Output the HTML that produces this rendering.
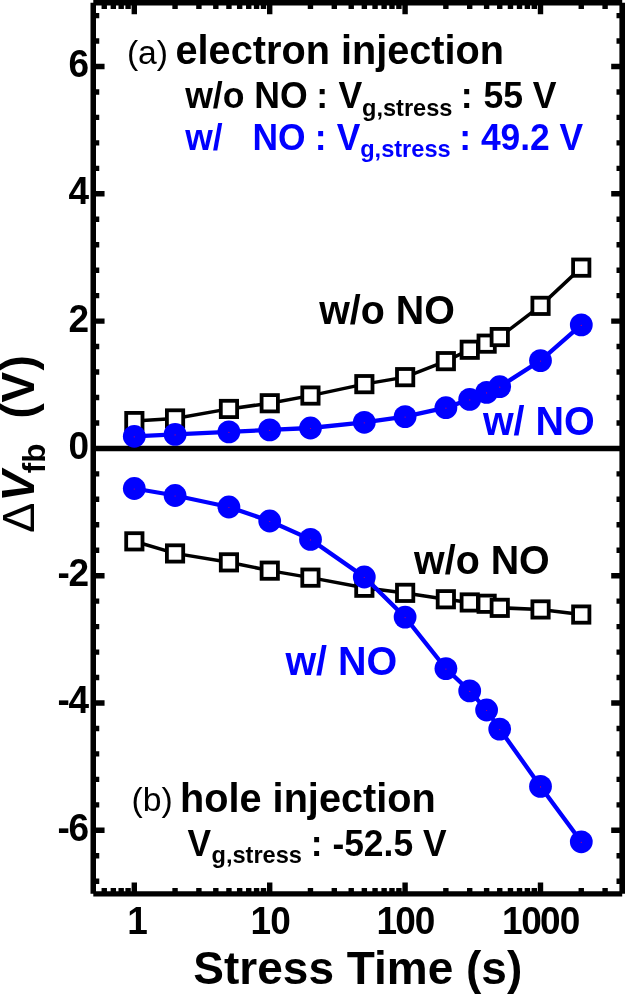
<!DOCTYPE html>
<html><head><meta charset="utf-8"><title>Stress Time</title>
<style>html,body{margin:0;padding:0;background:#fff;width:625px;height:994px;overflow:hidden}</style>
</head><body>
<svg width="625" height="994" viewBox="0 0 625 994" style="display:block;position:absolute;left:0;top:0">
<rect width="625" height="994" fill="#fff"/>
<path d="M93.25 881.22h6.0M622.5 881.22h-6.0M93.25 855.76h6.0M622.5 855.76h-6.0M93.25 830.30h11.3M622.5 830.30h-11.3M93.25 804.84h6.0M622.5 804.84h-6.0M93.25 779.38h6.0M622.5 779.38h-6.0M93.25 753.92h6.0M622.5 753.92h-6.0M93.25 728.46h6.0M622.5 728.46h-6.0M93.25 703.00h11.3M622.5 703.00h-11.3M93.25 677.54h6.0M622.5 677.54h-6.0M93.25 652.08h6.0M622.5 652.08h-6.0M93.25 626.62h6.0M622.5 626.62h-6.0M93.25 601.16h6.0M622.5 601.16h-6.0M93.25 575.70h11.3M622.5 575.70h-11.3M93.25 550.24h6.0M622.5 550.24h-6.0M93.25 524.78h6.0M622.5 524.78h-6.0M93.25 499.32h6.0M622.5 499.32h-6.0M93.25 473.86h6.0M622.5 473.86h-6.0M93.25 422.94h6.0M622.5 422.94h-6.0M93.25 397.48h6.0M622.5 397.48h-6.0M93.25 372.02h6.0M622.5 372.02h-6.0M93.25 346.56h6.0M622.5 346.56h-6.0M93.25 321.10h11.3M622.5 321.10h-11.3M93.25 295.64h6.0M622.5 295.64h-6.0M93.25 270.18h6.0M622.5 270.18h-6.0M93.25 244.72h6.0M622.5 244.72h-6.0M93.25 219.26h6.0M622.5 219.26h-6.0M93.25 193.80h11.3M622.5 193.80h-11.3M93.25 168.34h6.0M622.5 168.34h-6.0M93.25 142.88h6.0M622.5 142.88h-6.0M93.25 117.42h6.0M622.5 117.42h-6.0M93.25 91.96h6.0M622.5 91.96h-6.0M93.25 66.50h11.3M622.5 66.50h-11.3M93.25 41.04h6.0M622.5 41.04h-6.0M93.25 15.58h6.0M622.5 15.58h-6.0M104.26 2.9v6.0M104.26 893.9v-6.0M113.33 2.9v6.0M113.33 893.9v-6.0M121.18 2.9v6.0M121.18 893.9v-6.0M128.10 2.9v6.0M128.10 893.9v-6.0M134.30 2.9v11.3M134.30 893.9v-11.3M175.06 2.9v6.0M175.06 893.9v-6.0M198.90 2.9v6.0M198.90 893.9v-6.0M215.82 2.9v6.0M215.82 893.9v-6.0M228.94 2.9v6.0M228.94 893.9v-6.0M239.66 2.9v6.0M239.66 893.9v-6.0M248.73 2.9v6.0M248.73 893.9v-6.0M256.58 2.9v6.0M256.58 893.9v-6.0M263.50 2.9v6.0M263.50 893.9v-6.0M269.70 2.9v11.3M269.70 893.9v-11.3M310.46 2.9v6.0M310.46 893.9v-6.0M334.30 2.9v6.0M334.30 893.9v-6.0M351.22 2.9v6.0M351.22 893.9v-6.0M364.34 2.9v6.0M364.34 893.9v-6.0M375.06 2.9v6.0M375.06 893.9v-6.0M384.13 2.9v6.0M384.13 893.9v-6.0M391.98 2.9v6.0M391.98 893.9v-6.0M398.90 2.9v6.0M398.90 893.9v-6.0M405.10 2.9v11.3M405.10 893.9v-11.3M445.86 2.9v6.0M445.86 893.9v-6.0M469.70 2.9v6.0M469.70 893.9v-6.0M486.62 2.9v6.0M486.62 893.9v-6.0M499.74 2.9v6.0M499.74 893.9v-6.0M510.46 2.9v6.0M510.46 893.9v-6.0M519.53 2.9v6.0M519.53 893.9v-6.0M527.38 2.9v6.0M527.38 893.9v-6.0M534.30 2.9v6.0M534.30 893.9v-6.0M540.50 2.9v11.3M540.50 893.9v-11.3M581.26 2.9v6.0M581.26 893.9v-6.0M605.10 2.9v6.0M605.10 893.9v-6.0" stroke="#000" stroke-width="5.4" fill="none"/>
<path d="M90.5 2.8H96V893.8H90.5ZM93.3 -1H622.2V5.5H93.3ZM93.3 891.2H622.2V896.6H93.3ZM619.4 2.8H626V893.8H619.4Z" fill="#000"/>
<path d="M93.25 448.4H622.5" stroke="#000" stroke-width="5.5" fill="none"/>
<path d="M134.3 421.0L175.1 418.5L228.9 408.9L269.7 403.2L310.5 395.6L364.3 384.1L405.1 377.1L445.9 361.2L469.7 349.7L486.6 343.7L499.7 337.0L540.5 305.8L581.3 267.6" stroke="#000" stroke-width="3.5" fill="none"/>
<rect x="126.2" y="412.9" width="16.3" height="16.3" fill="#fff" stroke="#000" stroke-width="3.8"/>
<rect x="166.9" y="410.3" width="16.3" height="16.3" fill="#fff" stroke="#000" stroke-width="3.8"/>
<rect x="220.8" y="400.8" width="16.3" height="16.3" fill="#fff" stroke="#000" stroke-width="3.8"/>
<rect x="261.6" y="395.1" width="16.3" height="16.3" fill="#fff" stroke="#000" stroke-width="3.8"/>
<rect x="302.3" y="387.4" width="16.3" height="16.3" fill="#fff" stroke="#000" stroke-width="3.8"/>
<rect x="356.2" y="376.0" width="16.3" height="16.3" fill="#fff" stroke="#000" stroke-width="3.8"/>
<rect x="397.0" y="369.0" width="16.3" height="16.3" fill="#fff" stroke="#000" stroke-width="3.8"/>
<rect x="437.7" y="353.0" width="16.3" height="16.3" fill="#fff" stroke="#000" stroke-width="3.8"/>
<rect x="461.6" y="341.6" width="16.3" height="16.3" fill="#fff" stroke="#000" stroke-width="3.8"/>
<rect x="478.5" y="335.5" width="16.3" height="16.3" fill="#fff" stroke="#000" stroke-width="3.8"/>
<rect x="491.6" y="328.9" width="16.3" height="16.3" fill="#fff" stroke="#000" stroke-width="3.8"/>
<rect x="532.4" y="297.7" width="16.3" height="16.3" fill="#fff" stroke="#000" stroke-width="3.8"/>
<rect x="573.1" y="259.5" width="16.3" height="16.3" fill="#fff" stroke="#000" stroke-width="3.8"/>
<path d="M134.3 541.3L175.1 553.4L228.9 562.3L269.7 570.6L310.5 577.6L364.3 587.8L405.1 592.9L445.9 599.3L469.7 602.4L486.6 603.7L499.7 607.8L540.5 609.4L581.3 614.5" stroke="#000" stroke-width="3.5" fill="none"/>
<rect x="126.2" y="533.2" width="16.3" height="16.3" fill="#fff" stroke="#000" stroke-width="3.8"/>
<rect x="166.9" y="545.3" width="16.3" height="16.3" fill="#fff" stroke="#000" stroke-width="3.8"/>
<rect x="220.8" y="554.2" width="16.3" height="16.3" fill="#fff" stroke="#000" stroke-width="3.8"/>
<rect x="261.6" y="562.5" width="16.3" height="16.3" fill="#fff" stroke="#000" stroke-width="3.8"/>
<rect x="302.3" y="569.5" width="16.3" height="16.3" fill="#fff" stroke="#000" stroke-width="3.8"/>
<rect x="356.2" y="579.6" width="16.3" height="16.3" fill="#fff" stroke="#000" stroke-width="3.8"/>
<rect x="397.0" y="584.7" width="16.3" height="16.3" fill="#fff" stroke="#000" stroke-width="3.8"/>
<rect x="437.7" y="591.1" width="16.3" height="16.3" fill="#fff" stroke="#000" stroke-width="3.8"/>
<rect x="461.6" y="594.3" width="16.3" height="16.3" fill="#fff" stroke="#000" stroke-width="3.8"/>
<rect x="478.5" y="595.6" width="16.3" height="16.3" fill="#fff" stroke="#000" stroke-width="3.8"/>
<rect x="491.6" y="599.7" width="16.3" height="16.3" fill="#fff" stroke="#000" stroke-width="3.8"/>
<rect x="532.4" y="601.3" width="16.3" height="16.3" fill="#fff" stroke="#000" stroke-width="3.8"/>
<rect x="573.1" y="606.4" width="16.3" height="16.3" fill="#fff" stroke="#000" stroke-width="3.8"/>
<path d="M134.3 436.3L175.1 434.4L228.9 431.9L269.7 429.9L310.5 428.0L364.3 422.3L405.1 416.6L445.9 407.7L469.7 399.4L486.6 392.4L499.7 386.7L540.5 360.6L581.3 324.9" stroke="#0000ff" stroke-width="4.3" fill="none"/>
<circle cx="134.3" cy="436.3" r="11.4" fill="#0000ff"/>
<circle cx="134.3" cy="436.8" r="0.6" fill="#c0006a"/>
<circle cx="175.1" cy="434.4" r="11.4" fill="#0000ff"/>
<circle cx="175.1" cy="434.9" r="0.6" fill="#c0006a"/>
<circle cx="228.9" cy="431.9" r="11.4" fill="#0000ff"/>
<circle cx="228.9" cy="432.4" r="0.6" fill="#c0006a"/>
<circle cx="269.7" cy="429.9" r="11.4" fill="#0000ff"/>
<circle cx="269.7" cy="430.4" r="0.6" fill="#c0006a"/>
<circle cx="310.5" cy="428.0" r="11.4" fill="#0000ff"/>
<circle cx="310.5" cy="428.5" r="0.6" fill="#c0006a"/>
<circle cx="364.3" cy="422.3" r="11.4" fill="#0000ff"/>
<circle cx="364.3" cy="422.8" r="0.6" fill="#c0006a"/>
<circle cx="405.1" cy="416.6" r="11.4" fill="#0000ff"/>
<circle cx="405.1" cy="417.1" r="0.6" fill="#c0006a"/>
<circle cx="445.9" cy="407.7" r="11.4" fill="#0000ff"/>
<circle cx="445.9" cy="408.2" r="0.6" fill="#c0006a"/>
<circle cx="469.7" cy="399.4" r="11.4" fill="#0000ff"/>
<circle cx="469.7" cy="399.9" r="0.6" fill="#c0006a"/>
<circle cx="486.6" cy="392.4" r="11.4" fill="#0000ff"/>
<circle cx="486.6" cy="392.9" r="0.6" fill="#c0006a"/>
<circle cx="499.7" cy="386.7" r="11.4" fill="#0000ff"/>
<circle cx="499.7" cy="387.2" r="0.6" fill="#c0006a"/>
<circle cx="540.5" cy="360.6" r="11.4" fill="#0000ff"/>
<circle cx="540.5" cy="361.1" r="0.6" fill="#c0006a"/>
<circle cx="581.3" cy="324.9" r="11.4" fill="#0000ff"/>
<circle cx="581.3" cy="325.4" r="0.6" fill="#c0006a"/>
<path d="M134.3 488.5L175.1 495.5L228.9 507.0L269.7 521.0L310.5 539.4L364.3 577.0L405.1 617.1L445.9 668.6L469.7 690.9L486.6 710.0L499.7 729.1L540.5 786.4L581.3 841.8" stroke="#0000ff" stroke-width="4.3" fill="none"/>
<circle cx="134.3" cy="488.5" r="11.4" fill="#0000ff"/>
<circle cx="134.3" cy="489.0" r="0.6" fill="#c0006a"/>
<circle cx="175.1" cy="495.5" r="11.4" fill="#0000ff"/>
<circle cx="175.1" cy="496.0" r="0.6" fill="#c0006a"/>
<circle cx="228.9" cy="507.0" r="11.4" fill="#0000ff"/>
<circle cx="228.9" cy="507.5" r="0.6" fill="#c0006a"/>
<circle cx="269.7" cy="521.0" r="11.4" fill="#0000ff"/>
<circle cx="269.7" cy="521.5" r="0.6" fill="#c0006a"/>
<circle cx="310.5" cy="539.4" r="11.4" fill="#0000ff"/>
<circle cx="310.5" cy="539.9" r="0.6" fill="#c0006a"/>
<circle cx="364.3" cy="577.0" r="11.4" fill="#0000ff"/>
<circle cx="364.3" cy="577.5" r="0.6" fill="#c0006a"/>
<circle cx="405.1" cy="617.1" r="11.4" fill="#0000ff"/>
<circle cx="405.1" cy="617.6" r="0.6" fill="#c0006a"/>
<circle cx="445.9" cy="668.6" r="11.4" fill="#0000ff"/>
<circle cx="445.9" cy="669.1" r="0.6" fill="#c0006a"/>
<circle cx="469.7" cy="690.9" r="11.4" fill="#0000ff"/>
<circle cx="469.7" cy="691.4" r="0.6" fill="#c0006a"/>
<circle cx="486.6" cy="710.0" r="11.4" fill="#0000ff"/>
<circle cx="486.6" cy="710.5" r="0.6" fill="#c0006a"/>
<circle cx="499.7" cy="729.1" r="11.4" fill="#0000ff"/>
<circle cx="499.7" cy="729.6" r="0.6" fill="#c0006a"/>
<circle cx="540.5" cy="786.4" r="11.4" fill="#0000ff"/>
<circle cx="540.5" cy="786.9" r="0.6" fill="#c0006a"/>
<circle cx="581.3" cy="841.8" r="11.4" fill="#0000ff"/>
<circle cx="581.3" cy="842.3" r="0.6" fill="#c0006a"/>
<text transform="translate(0 76.9) scale(1 1.04)" x="89.2" y="0" font-family="Liberation Sans, Arial, Helvetica, sans-serif" font-size="37" font-weight="bold" fill="#000" text-anchor="end" >6</text>
<text transform="translate(0 204.2) scale(1 1.04)" x="89.2" y="0" font-family="Liberation Sans, Arial, Helvetica, sans-serif" font-size="37" font-weight="bold" fill="#000" text-anchor="end" >4</text>
<text transform="translate(0 331.49999999999994) scale(1 1.04)" x="89.2" y="0" font-family="Liberation Sans, Arial, Helvetica, sans-serif" font-size="37" font-weight="bold" fill="#000" text-anchor="end" >2</text>
<text transform="translate(0 458.79999999999995) scale(1 1.04)" x="89.2" y="0" font-family="Liberation Sans, Arial, Helvetica, sans-serif" font-size="37" font-weight="bold" fill="#000" text-anchor="end" >0</text>
<text transform="translate(0 586.0999999999999) scale(1 1.04)" x="57.5 68.62" y="0" font-family="Liberation Sans, Arial, Helvetica, sans-serif" font-size="37" font-weight="bold" fill="#000" text-anchor="start" >-2</text>
<text transform="translate(0 713.4) scale(1 1.04)" x="57.5 68.62" y="0" font-family="Liberation Sans, Arial, Helvetica, sans-serif" font-size="37" font-weight="bold" fill="#000" text-anchor="start" >-4</text>
<text transform="translate(0 840.6999999999999) scale(1 1.04)" x="57.5 68.62" y="0" font-family="Liberation Sans, Arial, Helvetica, sans-serif" font-size="37" font-weight="bold" fill="#000" text-anchor="start" >-6</text>
<text transform="translate(0 934.4) scale(1 1.04)" x="127.3" y="0" font-family="Liberation Sans, Arial, Helvetica, sans-serif" font-size="37" font-weight="bold" fill="#000" text-anchor="start" >1</text>
<text transform="translate(0 934.4) scale(1 1.04)" x="250.5 270.2" y="0" font-family="Liberation Sans, Arial, Helvetica, sans-serif" font-size="37" font-weight="bold" fill="#000" text-anchor="start" >10</text>
<text transform="translate(0 934.4) scale(1 1.04)" x="376.6 395.3 414.8" y="0" font-family="Liberation Sans, Arial, Helvetica, sans-serif" font-size="37" font-weight="bold" fill="#000" text-anchor="start" >100</text>
<text transform="translate(0 934.4) scale(1 1.04)" x="502.1 521.3 540.0 559.7" y="0" font-family="Liberation Sans, Arial, Helvetica, sans-serif" font-size="37" font-weight="bold" fill="#000" text-anchor="start" >1000</text>
<text transform="translate(0 984) scale(1 1.02)" x="357.8" y="0" font-family="Liberation Sans, Arial, Helvetica, sans-serif" font-size="46" font-weight="bold" fill="#000" text-anchor="middle" >Stress Time (s)</text>
<g transform="translate(33.8 531.3) rotate(-90)" font-family="Liberation Sans, Arial, Helvetica, sans-serif" fill="#000" font-weight="bold"><text x="-1.35" y="0" font-size="45" font-weight="normal">Δ</text><text x="29.9" y="0" font-size="46" font-style="italic">V</text><text x="58.15" y="11.6" font-size="31.5">fb</text><text x="112.8 128.85 160.8" y="0" font-size="46">(V)</text></g>
<text transform="translate(0 64.1) scale(1 1.0)" x="126.9" y="0" font-family="Liberation Sans, Arial, Helvetica, sans-serif" font-size="33.7" font-weight="normal" fill="#000" text-anchor="start" >(a)</text>
<text transform="translate(0 64.3) scale(1 1.025)" x="175.5" y="0" font-family="Liberation Sans, Arial, Helvetica, sans-serif" font-size="39.7" font-weight="bold" fill="#000" text-anchor="start" >electron injection</text>
<text transform="translate(0 107.5) scale(1 1.04)" x="185.2" y="0" font-family="Liberation Sans, Arial, Helvetica, sans-serif" font-size="35.6" font-weight="bold" fill="#000" text-anchor="start" >w/o NO</text>
<text transform="translate(0 107.5) scale(1 1.04)" x="316.2" y="0" font-family="Liberation Sans, Arial, Helvetica, sans-serif" font-size="35.6" font-weight="bold" fill="#000" text-anchor="start" >:</text>
<text transform="translate(0 107.5) scale(1 1.04)" x="338.4" y="0" font-family="Liberation Sans, Arial, Helvetica, sans-serif" font-size="35.6" font-weight="bold" fill="#000" text-anchor="start" >V</text>
<text transform="translate(0 115.7) scale(1 1.03)" x="362" y="0" font-family="Liberation Sans, Arial, Helvetica, sans-serif" font-size="23.6" font-weight="bold" fill="#000" text-anchor="start" >g,stress</text>
<text transform="translate(0 107.5) scale(1 1.04)" x="460.7" y="0" font-family="Liberation Sans, Arial, Helvetica, sans-serif" font-size="35.6" font-weight="bold" fill="#000" text-anchor="start" >:</text>
<text transform="translate(0 107.5) scale(1 1.04)" x="483.4" y="0" font-family="Liberation Sans, Arial, Helvetica, sans-serif" font-size="35.6" font-weight="bold" fill="#000" text-anchor="start" >55 V</text>
<text transform="translate(0 149.6) scale(1 1.04)" x="185.2" y="0" font-family="Liberation Sans, Arial, Helvetica, sans-serif" font-size="35.4" font-weight="bold" fill="#0000ff" text-anchor="start" >w/</text>
<text transform="translate(0 149.6) scale(1 1.04)" x="252.4" y="0" font-family="Liberation Sans, Arial, Helvetica, sans-serif" font-size="35.4" font-weight="bold" fill="#0000ff" text-anchor="start" >NO</text>
<text transform="translate(0 149.6) scale(1 1.04)" x="314.8" y="0" font-family="Liberation Sans, Arial, Helvetica, sans-serif" font-size="35.4" font-weight="bold" fill="#0000ff" text-anchor="start" >:</text>
<text transform="translate(0 149.6) scale(1 1.04)" x="336.7" y="0" font-family="Liberation Sans, Arial, Helvetica, sans-serif" font-size="35.4" font-weight="bold" fill="#0000ff" text-anchor="start" >V</text>
<text transform="translate(0 157.4) scale(1 1.03)" x="360.2" y="0" font-family="Liberation Sans, Arial, Helvetica, sans-serif" font-size="23.6" font-weight="bold" fill="#0000ff" text-anchor="start" >g,stress</text>
<text transform="translate(0 149.6) scale(1 1.04)" x="459.3" y="0" font-family="Liberation Sans, Arial, Helvetica, sans-serif" font-size="35.4" font-weight="bold" fill="#0000ff" text-anchor="start" >:</text>
<text transform="translate(0 149.6) scale(1 1.04)" x="480.9" y="0" font-family="Liberation Sans, Arial, Helvetica, sans-serif" font-size="35.4" font-weight="bold" fill="#0000ff" text-anchor="start" >49.2 V</text>
<text transform="translate(0 324) scale(1 1.03)" x="319.2" y="0" font-family="Liberation Sans, Arial, Helvetica, sans-serif" font-size="39.4" font-weight="bold" fill="#000" text-anchor="start" >w/o NO</text>
<text transform="translate(0 434.5) scale(1 1.03)" x="482.9" y="0" font-family="Liberation Sans, Arial, Helvetica, sans-serif" font-size="39.5" font-weight="bold" fill="#0000ff" text-anchor="start" >w/ NO</text>
<text transform="translate(0 574) scale(1 1.03)" x="414.1" y="0" font-family="Liberation Sans, Arial, Helvetica, sans-serif" font-size="39.4" font-weight="bold" fill="#000" text-anchor="start" >w/o NO</text>
<text transform="translate(0 674.5) scale(1 1.03)" x="285.4" y="0" font-family="Liberation Sans, Arial, Helvetica, sans-serif" font-size="39.5" font-weight="bold" fill="#0000ff" text-anchor="start" >w/ NO</text>
<text transform="translate(0 810.6) scale(1 1.0)" x="131.6" y="0" font-family="Liberation Sans, Arial, Helvetica, sans-serif" font-size="33.7" font-weight="normal" fill="#000" text-anchor="start" >(b)</text>
<text transform="translate(0 811.7) scale(1 1.025)" x="180.0" y="0" font-family="Liberation Sans, Arial, Helvetica, sans-serif" font-size="39.7" font-weight="bold" fill="#000" text-anchor="start" >hole injection</text>
<text transform="translate(0 855.7) scale(1 1.04)" x="187.6" y="0" font-family="Liberation Sans, Arial, Helvetica, sans-serif" font-size="35.3" font-weight="bold" fill="#000" text-anchor="start" >V</text>
<text transform="translate(0 863.0) scale(1 1.03)" x="211.5" y="0" font-family="Liberation Sans, Arial, Helvetica, sans-serif" font-size="23.6" font-weight="bold" fill="#000" text-anchor="start" >g,stress</text>
<text transform="translate(0 855.7) scale(1 1.04)" x="310.8" y="0" font-family="Liberation Sans, Arial, Helvetica, sans-serif" font-size="35.3" font-weight="bold" fill="#000" text-anchor="start" >:</text>
<text transform="translate(0 855.7) scale(1 1.04)" x="332.4" y="0" font-family="Liberation Sans, Arial, Helvetica, sans-serif" font-size="35.4" font-weight="bold" fill="#000" text-anchor="start" >-52.5 V</text>
</svg>
</body></html>
